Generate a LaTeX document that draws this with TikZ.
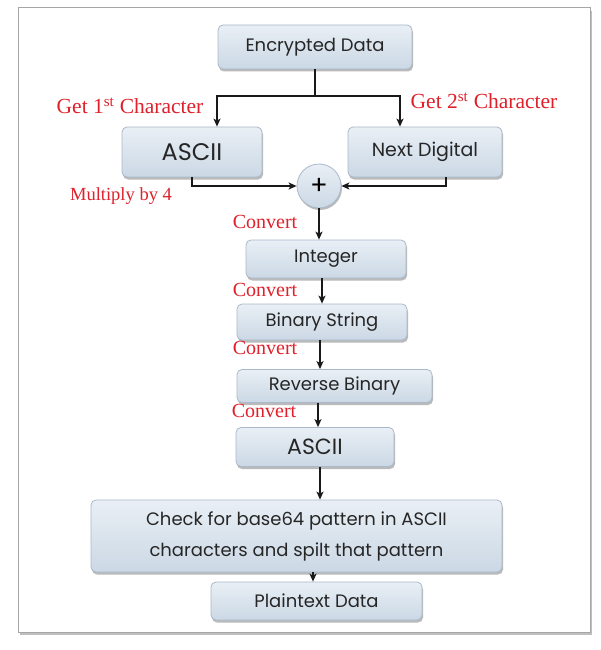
\documentclass[tikz,border=0pt]{standalone}
\usepackage{fontspec}
\setmainfont{Liberation Serif}
\newfontfamily\boxfont{Poppins}
\usetikzlibrary{shadows,arrows.meta}
\definecolor{boxtop}{HTML}{E9EFF5}
\definecolor{boxbot}{HTML}{CBD8E5}
\definecolor{boxline}{HTML}{A9B9C9}
\definecolor{lblred}{HTML}{E0202A}
\begin{document}
\begin{tikzpicture}[x=1pt,y=-1pt,
  stepbox/.style={rectangle,rounded corners=5pt,draw=boxline,line width=0.8pt,
    top color=boxtop,bottom color=boxbot,
    drop shadow={shadow xshift=1pt,shadow yshift=-2.5pt,fill=black!45,opacity=0.6},
    font=\boxfont\fontsize{18}{21}\selectfont,text=black!85,inner sep=0pt,align=center},
  lbl/.style={text=lblred,font=\fontsize{20}{22}\selectfont,inner sep=0pt},
  arr/.style={-{Stealth[length=8pt,width=7pt,inset=2pt]},line width=1.4pt,black!90},
  ln/.style={line width=1.4pt,black!90}]
\useasboundingbox (0,0) rectangle (600,650);
% frame
\node[draw=black!35,fill=white,line width=1pt,minimum width=572pt,minimum height=624pt,
  drop shadow={shadow xshift=1.5pt,shadow yshift=-3pt,fill=black!50,opacity=0.5},inner sep=0pt] (frame) at (304.5,320) {};
% boxes
\node[stepbox,minimum width=194pt,minimum height=44pt] (enc) at (315,47) {Encrypted Data};
\node[stepbox,minimum width=140pt,minimum height=50pt,font=\boxfont\fontsize{24}{26}\selectfont] (asc1) at (192,152) {ASCII};
\node[stepbox,minimum width=154pt,minimum height=50pt,font=\boxfont\fontsize{19}{22}\selectfont] (next) at (425,152) {Next Digital};
\node[circle,draw=boxline,line width=0.8pt,top color=boxtop,bottom color=boxbot,
  drop shadow={shadow xshift=1pt,shadow yshift=-2pt,fill=black!45,opacity=0.6},
  minimum size=44pt,inner sep=0pt,font=\boxfont\fontsize{26}{26}\selectfont] (plus) at (319,186) {+};
\node[stepbox,minimum width=160pt,minimum height=38pt] (int) at (326,259) {Integer};
\node[stepbox,minimum width=170pt,minimum height=36pt] (bin) at (322,322) {Binary String};
\node[stepbox,minimum width=195pt,minimum height=33pt] (rev) at (334.5,386) {Reverse Binary};
\node[stepbox,minimum width=158pt,minimum height=39pt,font=\boxfont\fontsize{22}{24}\selectfont] (asc2) at (315,447) {ASCII};
\node[stepbox,minimum width=411pt,minimum height=72pt,font=\boxfont\fontsize{18}{31}\selectfont] (chk) at (296.5,536) {Check for base64 pattern in ASCII\\characters and spilt that pattern};
\node[stepbox,minimum width=211pt,minimum height=38pt] (pt) at (316.5,601) {Plaintext Data};
% connectors
\coordinate (split) at (315,96);
\draw[ln] (enc.south) -- (split);
\draw[arr] (split) -| (asc1.north -| 217,0);
\draw[arr] (split) -| (next.north -| 400,0);
\draw[arr] (asc1.south -| 192,0) |- (plus.west);
\draw[arr] (next.south -| 446,0) |- (plus.east);
\draw[arr] (plus.south) -- (int.north -| plus.south);
\draw[arr] (int.south -| 322,0) -- (bin.north -| 322,0);
\draw[arr] (bin.south -| 320,0) -- (rev.north -| 320,0);
\draw[arr] (rev.south -| 318,0) -- (asc2.north -| 318,0);
\draw[arr] (asc2.south -| 320,0) -- (chk.north -| 320,0);
\draw[arr] (chk.south -| 313,0) -- (pt.north -| 313,0);
% labels
\node[lbl,font=\fontsize{21.5}{24}\selectfont] (l1) at (130,106) {Get 1\textsuperscript{st} Character};
\node[lbl,font=\fontsize{21.5}{24}\selectfont] (l2) at (484,101) {Get 2\textsuperscript{st} Character};
\node[lbl,font=\fontsize{18.5}{20}\selectfont] (l3) at (121,196) {Multiply by 4};
\node[lbl] (c1) at (265,222) {Convert};
\node[lbl] (c2) at (265,290) {Convert};
\node[lbl] (c3) at (265,348) {Convert};
\node[lbl] (c4) at (264,411) {Convert};
\end{tikzpicture}
\end{document}
